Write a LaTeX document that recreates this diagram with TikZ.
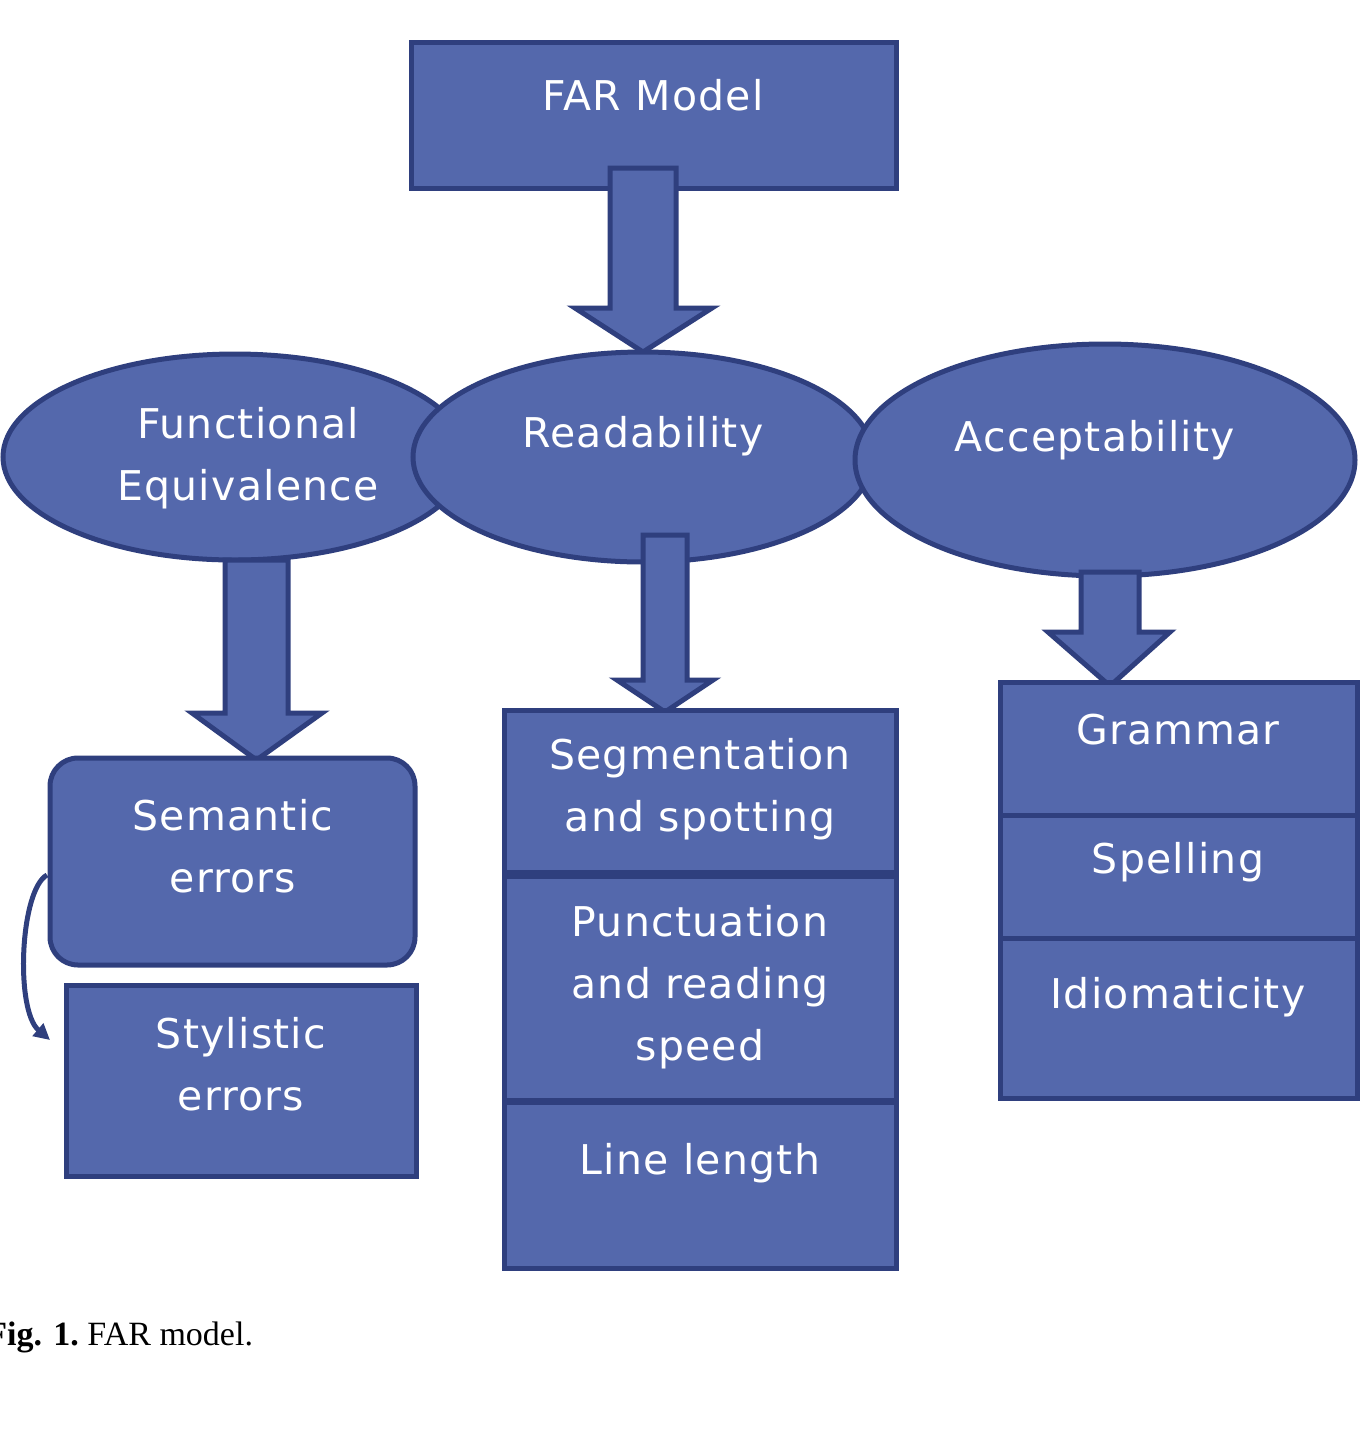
\documentclass[tikz,border=0pt]{standalone}
\usepackage{fontspec}
\setmainfont{DejaVu Sans}[LetterSpace=3]
\newfontfamily\capfont{Liberation Serif}
\usetikzlibrary{shapes.geometric,arrows.meta}
\definecolor{fillb}{HTML}{5468AC}
\definecolor{edgeb}{HTML}{2F3F7E}
\newcommand\blockarr[7]{\fill[fillb,draw=edgeb,line width=2.5pt] (#1,#3) -- (#2,#3) -- (#2,#6) -- (#5,#6) -- ({(#1+#2)/2},#7) -- (#4,#6) -- (#1,#6) -- cycle;}
\begin{document}
\begin{tikzpicture}[x=0.5pt,y=-0.5pt,
  box/.style={draw=edgeb,fill=fillb,line width=2.5pt},
  txt/.style={text=white,font=\fontsize{20.5}{31}\selectfont,align=center}]
\useasboundingbox (0,0) rectangle (1367,1437);
% top box
\draw[box] (411,42) rectangle (896,188);
\node[txt] (far) at (653,95) {FAR Model};
\blockarr{610}{676}{168}{575}{712}{308}{352}
% ellipses
\node[box,ellipse,minimum width=232pt,minimum height=103pt] (fe) at (235,457) {};
\node[txt] (fet) at (248,458) {Functional\\Equivalence};
\node[box,ellipse,minimum width=230pt,minimum height=105pt] (re) at (643,457) {};
\node[txt] (ret) at (643,436) {Readability};
\node[box,ellipse,minimum width=250pt,minimum height=116pt] (ac) at (1105,460) {};
\node[txt] (act) at (1095,440) {Acceptability};
% arrows down
\blockarr{225}{288}{560}{192}{322}{713}{760}
\blockarr{643}{687}{535}{617}{713}{680}{712}
\blockarr{1081}{1139}{572}{1048}{1170}{632}{686}
% left
\draw[box,rounded corners=14pt] (50,758) rectangle (415,965);
\node[txt] (sem) at (233,846) {Semantic\\errors};
\draw[box] (66,985) rectangle (416,1176);
\node[txt] (sty) at (241,1064) {Stylistic\\errors};
\coordinate (c1) at (47,875);
\coordinate (c2) at (50,1040);
\draw[edgeb,line width=2.5pt,-{Triangle[length=8pt,width=8pt]}] (c1) .. controls (20,890) and (15,1010) .. (c2);
% middle
\draw[box] (504,710) rectangle (896,872);
\draw[box] (504,876) rectangle (896,1100);
\draw[box] (504,1102) rectangle (896,1268);
\node[txt] (seg) at (700,789) {Segmentation\\and spotting};
\node[txt] (pun) at (700,987) {Punctuation\\and reading\\speed};
\node[txt] (lin) at (700,1163) {Line length};
% right
\draw[box] (1000,682) rectangle (1357,815);
\node[txt] (gra) at (1178,730) {Grammar};
\draw[box] (1000,815) rectangle (1357,938);
\node[txt] (spe) at (1178,862) {Spelling};
\draw[box] (1000,938) rectangle (1357,1098);
\node[txt] (idi) at (1178,997) {Idiomaticity};
% caption
\node[anchor=base west,font=\capfont\fontsize{17}{20}\selectfont,inner sep=0] (cap) at (-14,1345) {\textbf{Fig. 1.}\ FAR model.};
\end{tikzpicture}
\end{document}
